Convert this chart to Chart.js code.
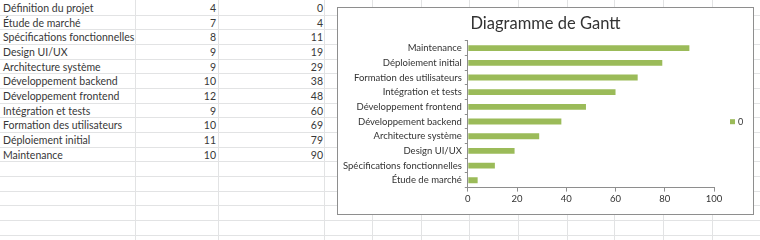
<!DOCTYPE html>
<html>
<head>
<meta charset="utf-8">
<script src="https://cdn.jsdelivr.net/npm/chart.js@4/dist/chart.umd.min.js"></script>
<style>
  html, body { margin: 0; padding: 0; background: #fff; }
  body { width: 760px; height: 240px; position: relative; overflow: hidden; font-family: Lato, "Liberation Sans", sans-serif; }
  .vline { position: absolute; top: 0; width: 1px; height: 240px; background: #e2e3e4; }
  .hline { position: absolute; left: 0; width: 760px; height: 1px; background: #e2e3e4; }
  .cell { position: absolute; height: 14px; line-height: 14px; font-size: 10.5px; color: #383838; white-space: nowrap; }
  .num { text-align: right; }
  #chartBox { position: absolute; left: 337px; top: 7px; width: 415px; height: 206px; border: 1px solid #8e8e8e; background: #fff; }
  #chartBox canvas { display: block; }
</style>
</head>
<body>
<div id="chartBox"><canvas id="gantt" width="415" height="206"></canvas></div>
<script>
// sheet data (first row doubles as the chart's header row, as in the spreadsheet)
const tasks = [
  'Définition du projet', 'Étude de marché', 'Spécifications fonctionnelles',
  'Design UI/UX', 'Architecture système', 'Développement backend',
  'Développement frontend', 'Intégration et tests', 'Formation des utilisateurs',
  'Déploiement initial', 'Maintenance'
];
const durations = [4, 7, 8, 9, 9, 10, 12, 9, 10, 11, 10];
const starts = [0, 4, 11, 19, 29, 38, 48, 60, 69, 79, 90];
const xTicks = [0, 20, 40, 60, 80, 100];

// spreadsheet grid
const colEdges = [135, 218, 324, 372, 421, 469, 518, 567, 614, 663, 712];
const rowH = 14.67;
const box = document.getElementById('chartBox');
colEdges.forEach(x => {
  const d = document.createElement('div');
  d.className = 'vline';
  d.style.left = x + 'px';
  document.body.insertBefore(d, box);
});
for (let i = 1; i * rowH < 240; i++) {
  const d = document.createElement('div');
  d.className = 'hline';
  d.style.top = Math.round(i * rowH) + 'px';
  document.body.insertBefore(d, box);
}

function addCell(text, left, width, row, isNum) {
  const d = document.createElement('div');
  d.className = 'cell' + (isNum ? ' num' : '');
  d.textContent = text;
  d.style.left = left + 'px';
  d.style.width = width + 'px';
  d.style.top = Math.round(row * rowH + 1) + 'px';
  document.body.insertBefore(d, box);
}
tasks.forEach((t, i) => {
  addCell(t, 3, 130, i, false);
  addCell(String(durations[i]), 136, 80, i, true);
  addCell(String(starts[i]), 219, 104, i, true);
});

const fontFamily = 'Lato, "Liberation Sans", sans-serif';
const chartFont = { family: fontFamily, size: 9.5 };

// small legend to the right of the plot (built-in legend would squeeze the y labels)
const sideLegend = {
  id: 'sideLegend',
  afterLayout(chart) {
    // center the title on the whole chart box, not just the padded area
    if (chart.titleBlock) {
      chart.titleBlock.left = 0;
      chart.titleBlock.right = chart.width;
      chart.titleBlock.width = chart.width;
    }
  },
  afterDraw(chart) {
    const ctx = chart.ctx;
    const ds = chart.data.datasets[0];
    const x = chart.chartArea.right + 16;
    const y = (chart.chartArea.top + chart.chartArea.bottom) / 2 + 8;
    ctx.save();
    ctx.fillStyle = ds.backgroundColor;
    ctx.fillRect(x, y - 3, 5, 5);
    ctx.fillStyle = '#333';
    ctx.font = '9px ' + fontFamily;
    ctx.textBaseline = 'middle';
    ctx.fillText(ds.label, x + 8, y);
    ctx.restore();
  }
};

new Chart(document.getElementById('gantt'), {
  type: 'bar',
  data: {
    labels: tasks.slice(1),
    datasets: [{
      label: String(starts[0]),
      data: starts.slice(1),
      backgroundColor: '#9bbb59',
      borderWidth: 0,
      barPercentage: 0.4,
      categoryPercentage: 1
    }]
  },
  options: {
    indexAxis: 'y',
    responsive: false,
    animation: false,
    layout: { padding: { left: 2, right: 39, top: 0, bottom: 7 } },
    plugins: {
      title: {
        display: true,
        text: 'Diagramme de Gantt',
        color: '#333',
        font: { family: fontFamily, size: 16.5, weight: 'normal' },
        padding: { top: 6, bottom: 7 }
      },
      legend: { display: false },
      tooltip: { enabled: false }
    },
    scales: {
      x: {
        min: 0,
        max: 100,
        afterBuildTicks: axis => { axis.ticks = xTicks.map(v => ({ value: v })); },
        grid: { drawOnChartArea: false, drawTicks: true, tickLength: 4, color: '#8e8e8e' },
        border: { display: true, color: '#8e8e8e' },
        ticks: { color: '#333', font: chartFont, padding: 2 }
      },
      y: {
        reverse: true,
        grid: { drawOnChartArea: false, drawTicks: true, tickLength: 3, color: '#8e8e8e', offset: true },
        border: { display: true, color: '#8e8e8e' },
        ticks: { color: '#333', font: chartFont, padding: 3, autoSkip: false }
      }
    }
  },
  plugins: [sideLegend]
});
</script>
</body>
</html>
